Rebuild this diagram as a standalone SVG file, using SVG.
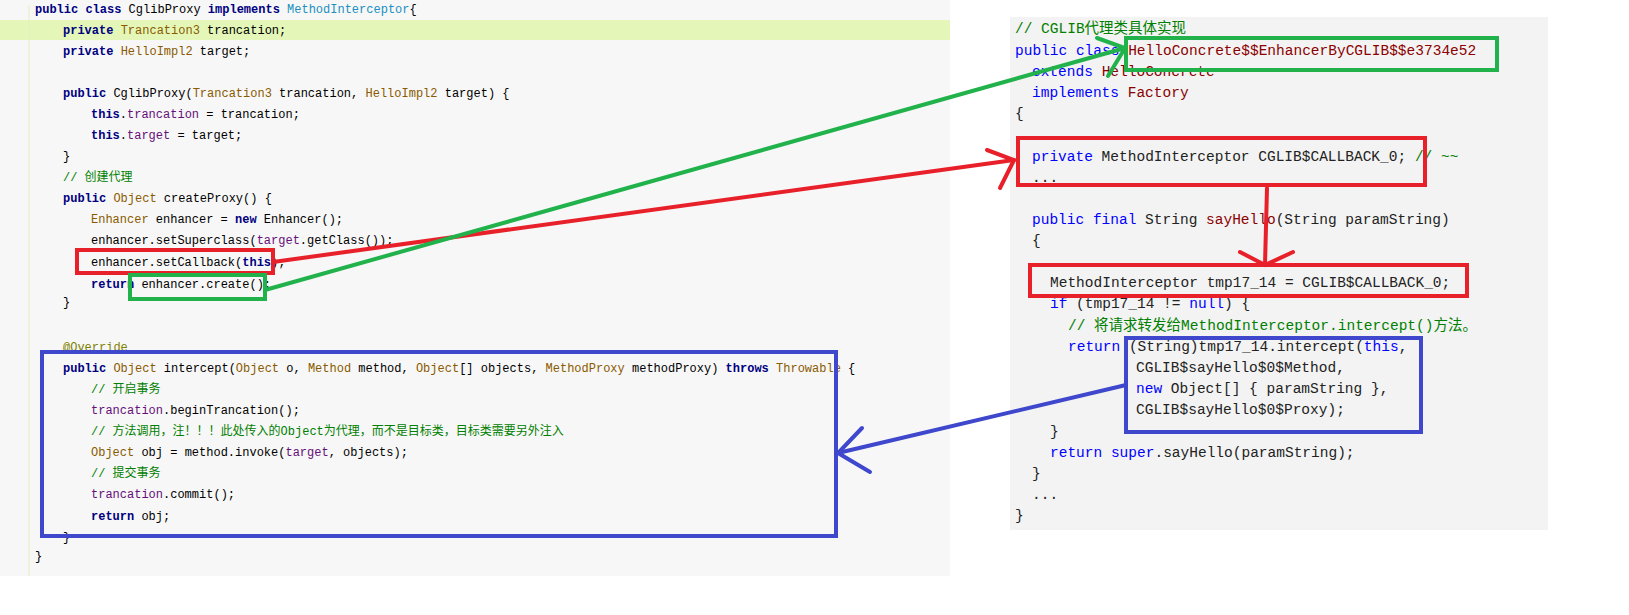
<svg xmlns="http://www.w3.org/2000/svg" width="1629" height="615" viewBox="0 0 1629 615">
<style>
.l{font-family:"Liberation Mono","Noto Sans CJK SC",monospace;font-size:12px;fill:#000}
.r{font-family:"Liberation Mono","Noto Sans CJK SC",monospace;font-size:14.5px;fill:#222}
.k{fill:#000080;font-weight:bold}
.t{fill:#8a5a00}
.c{fill:#008000}
.f{fill:#660e7a}
.i{fill:#2090c0}
.b{fill:#0000ff}
.d{fill:#8b0000}
.box{fill:none;stroke-width:4}
.red{stroke:#e8202a}
.grn{stroke:#22b24c}
.blu{stroke:#3f48cc}
.con line,.con polyline{stroke-width:4;fill:none;stroke-linecap:round}
</style>
<rect width="1629" height="615" fill="#fff"/>
<rect x="0" y="0" width="950" height="576" fill="#f7f7f7"/>
<rect x="0" y="20" width="950" height="20" fill="#e4f7b8"/>
<line x1="29" y1="5" x2="29" y2="576" stroke="#e0f0c0" stroke-width="1"/>
<rect x="1010" y="17" width="538" height="513" fill="#f3f3f3"/>

<g id="left-code" class="l">
<text x="35" y="13"><tspan class="k">public class</tspan> CglibProxy <tspan class="k">implements</tspan> <tspan class="i">MethodInterceptor</tspan>{</text>
<text x="63" y="34"><tspan class="k">private</tspan> <tspan class="t">Trancation3</tspan> trancation;</text>
<text x="63" y="55"><tspan class="k">private</tspan> <tspan class="t">HelloImpl2</tspan> target;</text>
<text x="63" y="97"><tspan class="k">public</tspan> CglibProxy(<tspan class="t">Trancation3</tspan> trancation, <tspan class="t">HelloImpl2</tspan> target) {</text>
<text x="91" y="118"><tspan class="k">this</tspan>.<tspan class="f">trancation</tspan> = trancation;</text>
<text x="91" y="139"><tspan class="k">this</tspan>.<tspan class="f">target</tspan> = target;</text>
<text x="63" y="160">}</text>
<text x="63" y="181" class="c">// 创建代理</text>
<text x="63" y="202"><tspan class="k">public</tspan> <tspan class="t">Object</tspan> createProxy() {</text>
<text x="91" y="223"><tspan class="t">Enhancer</tspan> enhancer = <tspan class="k">new</tspan> Enhancer();</text>
<text x="91" y="244">enhancer.setSuperclass(<tspan class="f">target</tspan>.getClass());</text>
<text x="91" y="266">enhancer.setCallback(<tspan class="k">this</tspan>);</text>
<text x="91" y="288"><tspan class="k">return</tspan> enhancer.create();</text>
<text x="63" y="306">}</text>
<text x="63" y="351" fill="#808000">@Override</text>
<text x="63" y="372"><tspan class="k">public</tspan> <tspan class="t">Object</tspan> intercept(<tspan class="t">Object</tspan> o, <tspan class="t">Method</tspan> method, <tspan class="t">Object</tspan>[] objects, <tspan class="t">MethodProxy</tspan> methodProxy) <tspan class="k">throws</tspan> <tspan class="t">Throwable</tspan> {</text>
<text x="91" y="393" class="c">// 开启事务</text>
<text x="91" y="414"><tspan class="f">trancation</tspan>.beginTrancation();</text>
<text x="91" y="435" class="c">// 方法调用，注！！！此处传入的Object为代理，而不是目标类，目标类需要另外注入</text>
<text x="91" y="456"><tspan class="t">Object</tspan> obj = method.invoke(<tspan class="f">target</tspan>, objects);</text>
<text x="91" y="477" class="c">// 提交事务</text>
<text x="91" y="498"><tspan class="f">trancation</tspan>.commit();</text>
<text x="91" y="520"><tspan class="k">return</tspan> obj;</text>
<text x="63" y="541">}</text>
<text x="35" y="560">}</text>
</g>

<g id="right-code" class="r">
<text x="1015" y="33" class="c">// CGLIB代理类具体实现</text>
<text x="1015" y="55"><tspan class="b">public class</tspan> <tspan class="d">HelloConcrete$$EnhancerByCGLIB$$e3734e52</tspan></text>
<text x="1032" y="76"><tspan class="b">extends</tspan> <tspan class="d">HelloConcrete</tspan></text>
<text x="1032" y="97"><tspan class="b">implements</tspan> <tspan class="d">Factory</tspan></text>
<text x="1015" y="118">{</text>
<text x="1032" y="161"><tspan class="b">private</tspan> MethodInterceptor CGLIB$CALLBACK_0; <tspan class="c">// ~~</tspan></text>
<text x="1032" y="182">...</text>
<text x="1032" y="224"><tspan class="b">public final</tspan> String <tspan class="d">sayHello</tspan>(String paramString)</text>
<text x="1032" y="245">{</text>
<text x="1050" y="287">MethodInterceptor tmp17_14 = CGLIB$CALLBACK_0;</text>
<text x="1050" y="308"><tspan class="b">if</tspan> (tmp17_14 != <tspan class="b">null</tspan>) {</text>
<text x="1068" y="330" class="c">// 将请求转发给MethodInterceptor.intercept()方法。</text>
<text x="1068" y="351"><tspan class="b">return</tspan> (String)tmp17_14.intercept(<tspan class="b">this</tspan>,</text>
<text x="1136" y="372">CGLIB$sayHello$0$Method,</text>
<text x="1136" y="393"><tspan class="b">new</tspan> Object[] { paramString },</text>
<text x="1136" y="414">CGLIB$sayHello$0$Proxy);</text>
<text x="1050" y="436">}</text>
<text x="1050" y="457"><tspan class="b">return</tspan> <tspan class="b">super</tspan>.sayHello(paramString);</text>
<text x="1032" y="478">}</text>
<text x="1032" y="499">...</text>
<text x="1015" y="520">}</text>
</g>

<g id="box-setCallback"><rect class="box red" x="77" y="250" width="196" height="23"/></g>
<g id="box-create"><rect class="box grn" x="130" y="275" width="135" height="24"/></g>
<g id="box-intercept"><rect class="box blu" x="42" y="352" width="794" height="184"/></g>
<g id="box-classname"><rect class="box grn" x="1126" y="38" width="371" height="32"/></g>
<g id="box-callback-field"><rect class="box red" x="1018" y="138" width="407" height="47"/></g>
<g id="box-tmp"><rect class="box red" x="1030" y="265" width="437" height="31"/></g>
<g id="box-invoke"><rect class="box blu" x="1126" y="338" width="295" height="94"/></g>

<g id="connectors" class="con">
<line class="red" x1="273" y1="262" x2="1014" y2="160"/>
<polyline class="red" points="987,150 1014,160 1000,188"/>
<line class="grn" x1="265" y1="290" x2="1125" y2="48"/>
<polyline class="grn" points="1097,38 1125,48 1108,76"/>
<line class="red" x1="1267" y1="188" x2="1265" y2="265"/>
<polyline class="red" points="1240,252 1265,265 1293,252"/>
<line class="blu" x1="1126" y1="385" x2="838" y2="453"/>
<polyline class="blu" points="862,428 838,453 870,472"/>
</g>
</svg>
